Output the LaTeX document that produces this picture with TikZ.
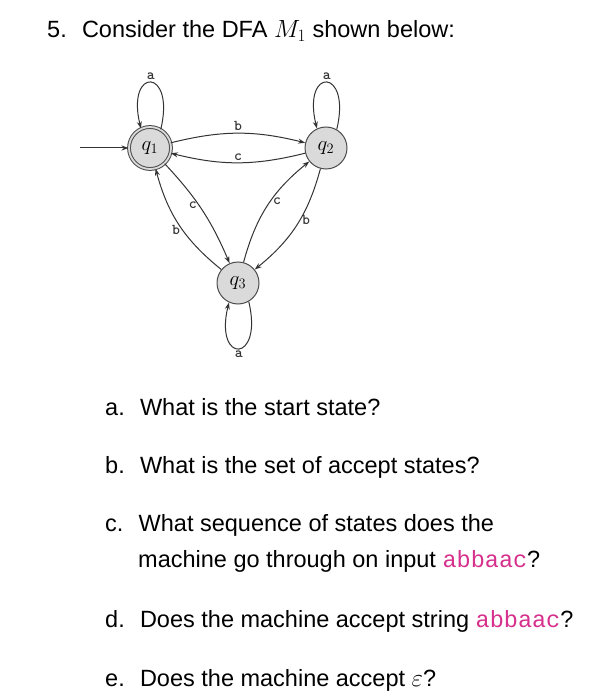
\documentclass[tikz,border=0pt]{standalone}
\usepackage{fontspec}
\setmainfont{Liberation Sans}
\newfontfamily\pinkfont{Liberation Mono}
\usetikzlibrary{arrows.meta}
\definecolor{qpink}{RGB}{214,48,140}
\definecolor{stfill}{RGB}{218,218,218}
\newcommand{\stname}[1]{\fontsize{22}{22}\selectfont$#1$}
\newcommand{\elab}[1]{\fontsize{15}{15}\selectfont\ttfamily\bfseries #1}
\begin{document}
\begin{tikzpicture}[x=1pt,y=-1pt,
  st/.style={circle,draw=black!70,fill=stfill,minimum size=42pt,inner sep=0pt,line width=1pt},
  acc/.style={st,double=stfill,double distance=1.8pt},
  tr/.style={-{Stealth[length=7pt,width=5pt]},line width=1pt,black!80},
  lab/.style={inner sep=2pt},
  txt/.style={anchor=west,font=\fontsize{23.5}{28}\selectfont,inner sep=0pt,align=left}]
\useasboundingbox (0,0) rectangle (611,700);
\node[txt] (title) at (47,31) {5.~ Consider the DFA $M_1$ shown below:};
\node[acc] (q1) at (150,148) {\stname{q_1}};
\node[st] (q2) at (326,148) {\stname{q_2}};
\node[st] (q3) at (238,283) {\stname{q_3}};
\coordinate (s) at (80,148);
\draw[tr] (s) -- (q1);
\draw[tr] (q1.60) .. controls +(15,-62) and +(-15,-62) .. node[lab,above]{\elab{a}} (q1.115);
\draw[tr] (q2.60) .. controls +(15,-62) and +(-15,-62) .. node[lab,above]{\elab{a}} (q2.115);
\draw[tr] (q3.-60) .. controls +(15,62) and +(-15,62) .. node[lab,below]{\elab{a}} (q3.-115);
\draw[tr] (q1) to[bend left=14] node[lab,above]{\elab{b}} (q2);
\draw[tr] (q2) to[bend left=14] node[lab,above]{\elab{c}} (q1);
\draw[tr] (q1) to[bend left=10] node[lab,left,pos=0.45]{\elab{c}} (q3);
\draw[tr] (q3) to[bend left=18] node[lab,left,pos=0.45]{\elab{b}} (q1);
\draw[tr] (q3) to[bend left=18] node[lab,right,pos=0.55]{\elab{c}} (q2);
\draw[tr] (q2) to[bend left=18] node[lab,right,pos=0.45]{\elab{b}} (q3);
\node[txt] (qa) at (105,407) {a.~ What is the start state?};
\node[txt] (qb) at (105,467) {b.~ What is the set of accept states?};
\node[txt] (qc) at (105,525) {c.~ What sequence of states does the};
\node[txt] (qc2) at (138,561) {machine go through on input {\pinkfont\color{qpink}abbaac}?};
\node[txt] (qd) at (105,621) {d.~ Does the machine accept string {\pinkfont\color{qpink}abbaac}?};
\node[txt] (qe) at (105,680) {e.~ Does the machine accept $\varepsilon$?};
\end{tikzpicture}
\end{document}
